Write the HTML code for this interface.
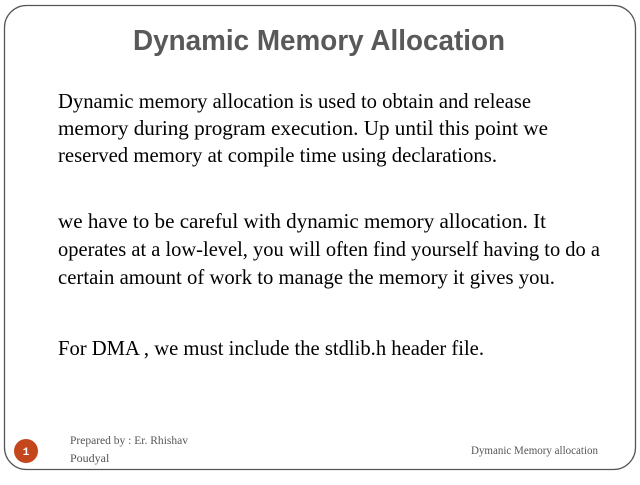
<!DOCTYPE html>
<html><head><meta charset="utf-8"><style>html,body{margin:0;padding:0;background:#fff}</style></head><body>
<svg width="640" height="480" viewBox="0 0 640 480" xmlns="http://www.w3.org/2000/svg">
<rect x="4.5" y="5.5" width="631" height="464" rx="22" ry="22" fill="#fff" stroke="#555" stroke-width="1.3"/>
<text x="133" y="50" font-family="Liberation Sans, sans-serif" font-size="29" font-weight="bold" fill="#595959" textLength="372" lengthAdjust="spacingAndGlyphs">Dynamic Memory Allocation</text>
<g font-family="Liberation Serif, serif" font-size="21" fill="#000">
<text x="58" y="108" textLength="473" lengthAdjust="spacingAndGlyphs">Dynamic memory allocation is used to obtain and release</text>
<text x="58" y="135" textLength="490" lengthAdjust="spacingAndGlyphs">memory during program execution. Up until this point we</text>
<text x="58" y="162" textLength="439" lengthAdjust="spacingAndGlyphs">reserved memory at compile time using declarations.</text>
<text x="58" y="228" textLength="488" lengthAdjust="spacingAndGlyphs">we have to be careful with dynamic memory allocation. It</text>
<text x="58" y="256" textLength="542" lengthAdjust="spacingAndGlyphs">operates at a low-level, you will often find yourself having to do a</text>
<text x="58" y="284" textLength="497" lengthAdjust="spacingAndGlyphs">certain amount of work to manage the memory it gives you.</text>
<text x="58" y="355" textLength="426" lengthAdjust="spacingAndGlyphs">For DMA , we must include the stdlib.h header file.</text>
</g>
<circle cx="26" cy="451" r="12" fill="#c4461d"/>
<text x="26" y="455" text-anchor="middle" font-family="Liberation Mono, monospace" font-size="11" font-weight="bold" fill="#fff">1</text>
<g font-family="Liberation Serif, serif" font-size="12" fill="#555">
<text x="70" y="444" textLength="118" lengthAdjust="spacingAndGlyphs">Prepared by : Er. Rhishav</text>
<text x="70" y="462">Poudyal</text>
<text x="471" y="454" textLength="127" lengthAdjust="spacingAndGlyphs">Dymanic Memory allocation</text>
</g>
</svg>
</body></html>
